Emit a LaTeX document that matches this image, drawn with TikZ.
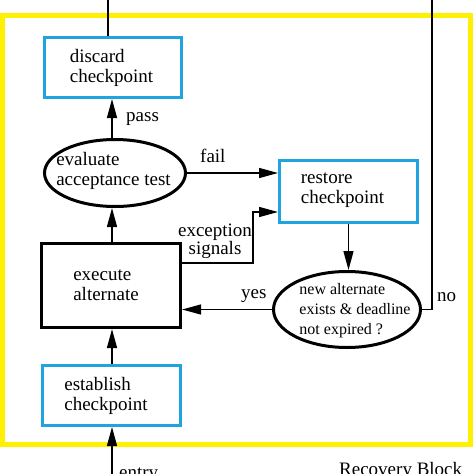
\documentclass[tikz,border=0pt]{standalone}
\usepackage{fontspec}
\setmainfont{Liberation Serif}
\usetikzlibrary{shapes.geometric,arrows.meta}
\definecolor{boxblue}{RGB}{32,164,222}
\definecolor{frameyellow}{RGB}{255,240,0}
\begin{document}
\begin{tikzpicture}[x=1pt,y=-1pt,
  bluebox/.style={draw=boxblue, line width=3pt, rectangle, inner sep=0pt},
  thickbox/.style={draw=black, line width=3.2pt, rectangle, inner sep=0pt},
  oval/.style={draw=black, line width=3pt, ellipse, inner sep=0pt},
  txt/.style={font=\fontsize{19}{20}\selectfont, align=left, inner sep=0pt},
  smalltxt/.style={font=\fontsize{16}{20}\selectfont, align=left, inner sep=0pt},
  lbl/.style={font=\fontsize{19}{20}\selectfont, inner sep=0pt, anchor=base west},
  conn/.style={draw=black, line width=1.4pt},
  arr/.style={conn, -{Triangle[length=19pt,width=10pt]}}]
\useasboundingbox (0,0) rectangle (474,474);
% frame
\draw[frameyellow, line width=5.5pt] (2.5,15.5) rectangle (470.5,444.5);
% shapes
\node[bluebox, minimum width=137pt, minimum height=60pt] (disc) at (113,67.5) {};
\node[oval, minimum width=141pt, minimum height=67pt] (eval) at (115,173) {};
\node[bluebox, minimum width=138pt, minimum height=62pt] (rest) at (348.5,191.5) {};
\node[thickbox, minimum width=139pt, minimum height=84pt] (exec) at (111,285.5) {};
\node[oval, minimum width=147pt, minimum height=76pt] (dec) at (347,309.5) {};
\node[bluebox, minimum width=138pt, minimum height=60pt] (est) at (111.5,395.5) {};
% texts
\node[txt] (discT) at (111.5,67.5) {discard\\checkpoint};
\node[txt] (evalT) at (113.5,170.5) {evaluate\\acceptance test};
\node[txt] (restT) at (342.5,190.5) {restore\\checkpoint};
\node[txt] (execT) at (106,285) {execute\\alternate};
\node[smalltxt] (decT) at (355,310.5) {new alternate\\exists \& deadline\\not expired ?};
\node[txt] (estT) at (106,396) {establish\\checkpoint};
% free ends
\coordinate (exitL) at (108,0);
\coordinate (exitR) at (432,0);
\coordinate (entry) at (112,474);
\coordinate (exc) at (253,212);
% connectors
\draw[arr] (entry) -- (entry |- est.south);
\draw[arr] (est.north -| entry) -- (entry |- exec.south);
\draw[arr] (exec.north -| entry) -- (entry |- eval.south);
\draw[arr] (eval.north -| entry) -- (entry |- disc.south);
\draw[conn] (disc.north -| exitL) -- (exitL);
\draw[arr] (eval.east) -- (eval.east -| rest.west);
\draw[arr] (exec.east |- 0,263) -| (exc) -- (exc -| rest.west);
\draw[arr] (rest.south) -- (rest.south |- dec.north);
\draw[arr] (dec.west) -- (dec.west -| exec.east);
\draw[conn] (dec.east) -| (exitR);
% labels
\node[lbl] (passL) at (126,121) {pass};
\node[lbl] (failL) at (200,162) {fail};
\node[font=\fontsize{19}{18}\selectfont, align=center, inner sep=0pt] (excL) at (215,241.5) {exception\\signals};
\node[lbl] (yesL) at (241,298) {yes};
\node[lbl] (noL) at (437,301) {no};
\node[lbl] (entryL) at (119,478) {entry};
\node[lbl] (rbL) at (339,475) {Recovery Block};
\end{tikzpicture}
\end{document}
